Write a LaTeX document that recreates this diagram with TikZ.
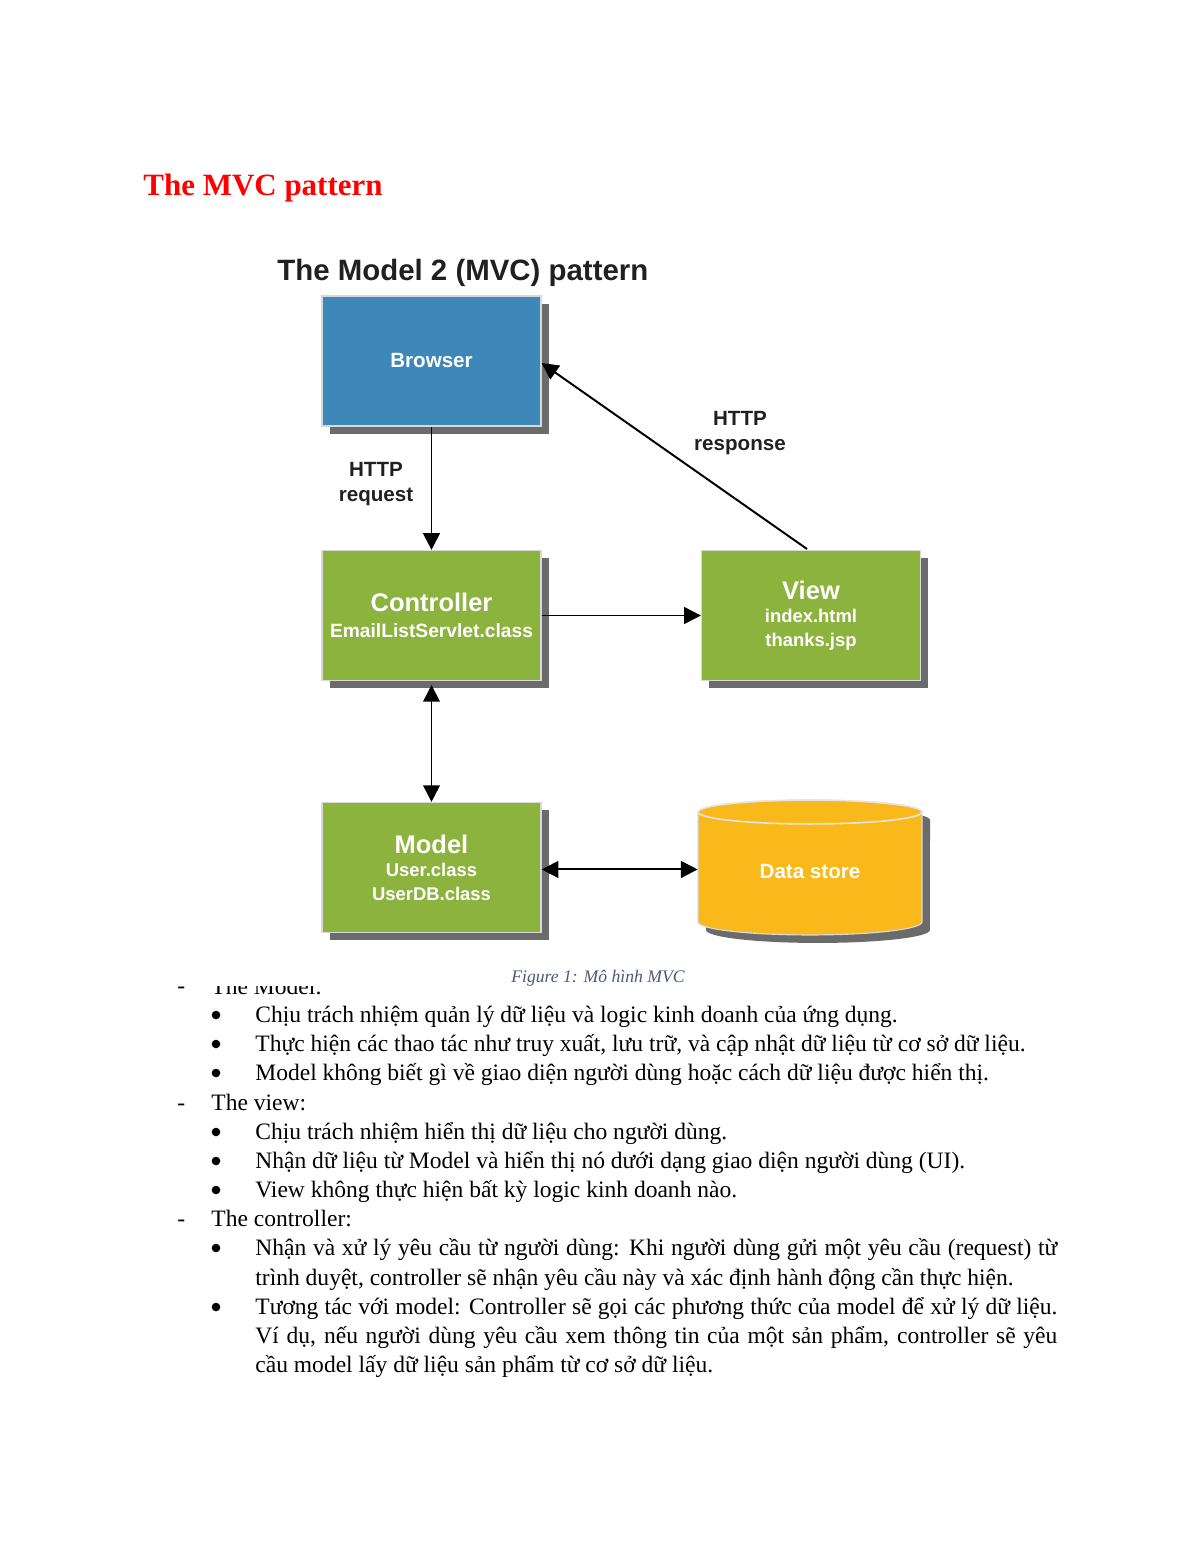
\documentclass[tikz,border=0pt]{standalone}
\usepackage{fontspec}
\setmainfont{Liberation Serif}
\setsansfont{Liberation Sans}
\usetikzlibrary{arrows.meta,shadows}
\definecolor{mvcblue}{HTML}{3D88B9}
\definecolor{mvcgreen}{HTML}{8DB33F}
\definecolor{mvcyellow}{HTML}{FAB91A}
\definecolor{shadowgray}{HTML}{6B6B6B}
\definecolor{capcolor}{HTML}{4A5A78}
\definecolor{headcolor}{HTML}{231F20}
\begin{document}
\begin{tikzpicture}[x=0.51pt,y=-0.51pt,
  box/.style={rectangle, draw=white!85!black, line width=0.6pt, text=white,
    font=\sffamily\bfseries, align=center, minimum width=111.7pt, minimum height=66.3pt,
    inner sep=0pt, drop shadow={shadow xshift=4pt, shadow yshift=-4pt, fill=shadowgray, opacity=1}},
  greenbox/.style={box, fill=mvcgreen},
  bluebox/.style={box, fill=mvcblue},
  conn/.style={line width=1pt, -{Triangle[length=8.5pt,width=8.5pt]}},
  conn2/.style={line width=1pt, {Triangle[length=8.5pt,width=8.5pt]}-{Triangle[length=8.5pt,width=8.5pt]}},
  lbl/.style={font=\sffamily\bfseries\fontsize{10.5}{12.5}\selectfont, align=center, text=headcolor, inner sep=0pt},
  body/.style={anchor=base west, inner sep=0pt, font=\fontsize{12}{14}\selectfont},
  dot/.style={circle, fill=black, inner sep=0pt, minimum size=4.4pt}
]
\useasboundingbox (0,0) rectangle (1200,1553);

% Title
\node[anchor=base west, inner sep=0pt, text=red, font=\bfseries\fontsize{15.8}{19}\selectfont] (title) at (143,196) {The MVC pattern};

% Diagram header
\node[anchor=base west, inner sep=0pt, text=headcolor, font=\sffamily\bfseries\fontsize{15}{18}\selectfont] (head) at (277,280) {The Model 2 (MVC) pattern};

% Boxes
\node[bluebox, font=\sffamily\bfseries\fontsize{10.5}{12}\selectfont] (browser) at (431.5,361) {Browser};
\node[greenbox] (controller) at (431.5,615.5) {{\fontsize{13}{14}\selectfont Controller}\\[1pt]{\fontsize{9.8}{11}\selectfont EmailListServlet.class}};
\node[greenbox] (view) at (811,615.5) {{\fontsize{13}{14}\selectfont View}\\[0pt]{\fontsize{9.4}{12.5}\selectfont index.html}\\[0pt]{\fontsize{9.4}{12.5}\selectfont thanks.jsp}};
\node[greenbox] (model) at (431.5,867.5) {{\fontsize{13}{14}\selectfont Model}\\[0pt]{\fontsize{9.4}{12.5}\selectfont User.class}\\[0pt]{\fontsize{9.4}{12.5}\selectfont UserDB.class}};

% Data store cylinder
\fill[shadowgray] (706,820) -- (706,930) arc (180:360:57.1pt and 6.6pt) -- (930,820) arc (0:180:57.1pt and 6.1pt) -- cycle;
\fill[mvcyellow, draw=white!85!black, line width=0.6pt] (698,812) -- (698,922) arc (180:360:57.1pt and 6.6pt) -- (922,812) arc (0:180:57.1pt and 6.1pt) -- cycle;
\draw[white!90!black, line width=0.8pt] (810,812) ellipse [x radius=57.1pt, y radius=6.1pt];
\node[inner sep=0pt, minimum width=114.2pt, minimum height=62pt, text=white, font=\sffamily\bfseries\fontsize{10.5}{12}\selectfont] (store) at (810,872) {Data store};

% Connectors
\draw[conn] (browser.south) -- (controller.north);
\node[lbl] (reqlbl) at (376,484) {HTTP\\request};
\draw[conn] (807,549) coordinate (vtop) -- (browser.east |- 0,363);
\node[lbl] (reslbl) at (740,433) {HTTP\\response};
\draw[conn] (controller.east) -- (view.west);
\draw[conn2] ([yshift=-2pt]controller.south) -- (model.north);
\draw[conn2] ([yshift=-1pt]model.east) -- ([yshift=-1pt]model.east -| store.west);

% Caption
\node[anchor=base, inner sep=0pt, text=capcolor, font=\itshape\fontsize{9}{11}\selectfont] (cap) at (598,982) {Figure 1: Mô hình MVC};

% Body text
\begin{scope}
\clip (150,986) rectangle (600,1002);
\node[body] (m0) at (211,994) {The Model:};
\end{scope}
\node[body] (d1) at (177,993) {-};
\node[dot] (b1) at (216,1015) {};
\node[body] (l1) at (255,1022) {Chịu trách nhiệm quản lý dữ liệu và logic kinh doanh của ứng dụng.};
\node[dot] (b2) at (216,1044) {};
\node[body] (l2) at (255,1051) {Thực hiện các thao tác như truy xuất, lưu trữ, và cập nhật dữ liệu từ cơ sở dữ liệu.};
\node[dot] (b3) at (216,1073) {};
\node[body] (l3) at (255,1080) {Model không biết gì về giao diện người dùng hoặc cách dữ liệu được hiển thị.};
\node[body] (d2) at (177,1110) {-};
\node[body] (h2) at (211,1110) {The view:};
\node[dot] (b4) at (216,1132) {};
\node[body] (l4) at (255,1139) {Chịu trách nhiệm hiển thị dữ liệu cho người dùng.};
\node[dot] (b5) at (216,1161) {};
\node[body] (l5) at (255,1168) {Nhận dữ liệu từ Model và hiển thị nó dưới dạng giao diện người dùng (UI).};
\node[dot] (b6) at (216,1190) {};
\node[body] (l6) at (255,1197) {View không thực hiện bất kỳ logic kinh doanh nào.};
\node[body] (d3) at (177,1226) {-};
\node[body] (h3) at (211,1226) {The controller:};
\node[dot] (b7) at (216,1248) {};
\node[body] (l7) at (255,1255) {\makebox[409pt][s]{Nhận và xử lý yêu cầu từ người dùng: Khi người dùng gửi một yêu cầu (request) từ}};
\node[body] (l8) at (255,1285) {trình duyệt, controller sẽ nhận yêu cầu này và xác định hành động cần thực hiện.};
\node[dot] (b8) at (216,1307) {};
\node[body] (l9) at (255,1314) {\makebox[409pt][s]{Tương tác với model: Controller sẽ gọi các phương thức của model để xử lý dữ liệu.}};
\node[body] (l10) at (255,1343) {\makebox[409pt][s]{Ví dụ, nếu người dùng yêu cầu xem thông tin của một sản phẩm, controller sẽ yêu}};
\node[body] (l11) at (255,1372) {cầu model lấy dữ liệu sản phẩm từ cơ sở dữ liệu.};
\end{tikzpicture}
\end{document}
